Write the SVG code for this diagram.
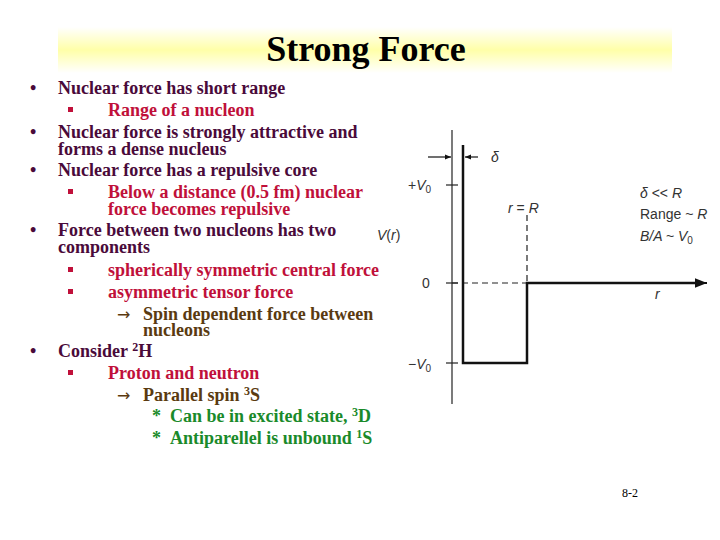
<svg xmlns="http://www.w3.org/2000/svg" width="720" height="540" viewBox="0 0 720 540">
<defs>
<linearGradient id="tg" x1="0" y1="0" x2="0" y2="1">
<stop offset="0" stop-color="#ffffff"/><stop offset="0.5" stop-color="#ffffa8"/><stop offset="1" stop-color="#ffffff"/>
</linearGradient>
<marker id="ah" viewBox="0 0 10 10" refX="10" refY="5" markerWidth="6" markerHeight="6" orient="auto"><path d="M0,1 L10,5 L0,9 z" fill="#111"/></marker>
<marker id="sa" viewBox="0 0 10 10" refX="10" refY="5" markerWidth="5" markerHeight="5" orient="auto"><path d="M0,1 L10,5 L0,9 z" fill="#111"/></marker>
<style>
.t{font-family:"Liberation Serif",serif;font-weight:bold;font-size:18px}
.l1{fill:#4a0a3a}.l2{fill:#c0103a}.l3{fill:#5a3a10}.l4{fill:#1a8a2a}
.ar{font-family:"DejaVu Sans",sans-serif;font-size:16px;font-weight:normal}
.p{font-family:"Liberation Sans",sans-serif;font-size:14px;fill:#333}
.pi{font-family:"Liberation Sans",sans-serif;font-size:14px;fill:#333;font-style:italic}
.ax{stroke:#222;stroke-width:1.2;fill:none}
.pot{stroke:#111;stroke-width:2.5;fill:none}
</style>
</defs>
<rect width="720" height="540" fill="#fff"/>
<rect x="58" y="27" width="614" height="46" fill="url(#tg)"/>
<text x="366" y="61" text-anchor="middle" font-family="Liberation Serif,serif" font-weight="bold" font-size="36" fill="#000">Strong Force</text>
<g class="t">
<text x="30" y="94" class="l1">•</text><text x="58" y="94" class="l1">Nuclear force has short range</text>
<rect x="68" y="107" width="5" height="5" class="l2"/><text x="108" y="116" class="l2">Range of a nucleon</text>
<text x="30" y="138" class="l1">•</text><text x="58" y="138" class="l1">Nuclear force is strongly attractive and</text>
<text x="58" y="155" class="l1">forms a dense nucleus</text>
<text x="30" y="176" class="l1">•</text><text x="58" y="176" class="l1">Nuclear force has a repulsive core</text>
<rect x="68" y="189" width="5" height="5" class="l2"/><text x="108" y="198" class="l2">Below a distance (0.5 fm) nuclear</text>
<text x="108" y="215" class="l2">force becomes repulsive</text>
<text x="30" y="236" class="l1">•</text><text x="58" y="236" class="l1">Force between two nucleons has two</text>
<text x="58" y="253" class="l1">components</text>
<rect x="68" y="267" width="5" height="5" class="l2"/><text x="108" y="276" class="l2">spherically symmetric central force</text>
<rect x="68" y="289" width="5" height="5" class="l2"/><text x="108" y="298" class="l2">asymmetric tensor force</text>
<text x="117" y="320" class="l3 ar">→</text><text x="143" y="320" class="l3">Spin dependent force between</text>
<text x="143" y="336" class="l3">nucleons</text>
<text x="30" y="357" class="l1">•</text><text x="58" y="357" class="l1">Consider <tspan font-size="12" dy="-6">2</tspan><tspan dy="6">H</tspan></text>
<rect x="68" y="370" width="5" height="5" class="l2"/><text x="108" y="379" class="l2">Proton and neutron</text>
<text x="117" y="401" class="l3 ar">→</text><text x="143" y="401" class="l3">Parallel spin <tspan font-size="12" dy="-6">3</tspan><tspan dy="6">S</tspan></text>
<text x="152" y="422" class="l4">*</text><text x="170" y="422" class="l4">Can be in excited state, <tspan font-size="12" dy="-6">3</tspan><tspan dy="6">D</tspan></text>
<text x="152" y="444" class="l4">*</text><text x="170" y="444" class="l4">Antiparellel is unbound <tspan font-size="12" dy="-6">1</tspan><tspan dy="6">S</tspan></text>
</g>
<text x="622" y="497" font-family="Liberation Serif,serif" font-size="12" fill="#000">8-2</text>
<g id="plot">
<line x1="452" y1="130" x2="452" y2="404" class="ax"/>
<line x1="446" y1="185" x2="458" y2="185" class="ax"/>
<line x1="446" y1="283" x2="458" y2="283" class="ax"/>
<line x1="446" y1="363" x2="458" y2="363" class="ax"/>
<line x1="452" y1="283" x2="527" y2="283" class="ax" stroke-dasharray="6,4"/>
<line x1="527" y1="215" x2="527" y2="283" class="ax" stroke-dasharray="6,4"/>
<path d="M463,145 L463,363 L527,363 L527,283 L700,283" class="pot"/>
<line x1="690" y1="283" x2="707" y2="283" stroke="#111" stroke-width="2" marker-end="url(#ah)"/>
<line x1="428" y1="157" x2="451" y2="157" stroke="#111" stroke-width="1.2" marker-end="url(#sa)"/>
<line x1="478" y1="157" x2="465" y2="157" stroke="#111" stroke-width="1.2" marker-end="url(#sa)"/>
<text x="491" y="162" class="pi">δ</text>
<text x="408" y="190" class="p">+<tspan font-style="italic">V</tspan><tspan font-size="10" dy="3">0</tspan></text>
<text x="422" y="288" class="p">0</text>
<text x="408" y="369" class="p">−<tspan font-style="italic">V</tspan><tspan font-size="10" dy="3">0</tspan></text>
<text x="377" y="240" class="pi">V<tspan font-style="normal">(</tspan>r<tspan font-style="normal">)</tspan></text>
<text x="508" y="213" class="pi">r <tspan font-style="normal">=</tspan> R</text>
<text x="655" y="299" class="pi">r</text>
<text x="640" y="198" class="pi">δ <tspan font-style="normal">&lt;&lt;</tspan> R</text>
<text x="640" y="219" class="p">Range ~ <tspan font-style="italic">R</tspan></text>
<text x="640" y="241" class="pi">B/A <tspan font-style="normal">~</tspan> V<tspan font-size="10" dy="3" font-style="normal">0</tspan></text>
</g>
</svg>
